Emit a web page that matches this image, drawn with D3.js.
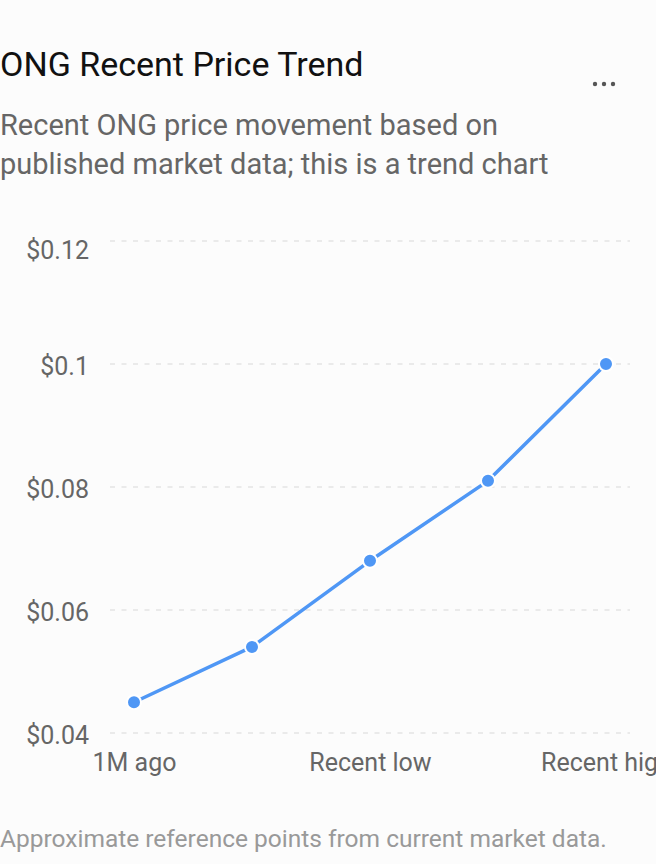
<!DOCTYPE html>
<html>
<head>
<meta charset="utf-8">
<script src="https://d3js.org/d3.v7.min.js"></script>
<style>
  html, body {margin: 0; padding: 0; background: #fcfcfc;}
  body {font-family: Roboto, "Noto Sans", sans-serif; width: 656px; height: 864px; overflow: hidden;}
  .axis .domain {display: none;}
  .axis text {font-family: Roboto, "Noto Sans", sans-serif; font-size: 25px; fill: #666;}
</style>
</head>
<body>
<svg id="chart" width="656" height="864"></svg>
<script>
// chart data
var categories = ["1M ago", "3W ago", "Recent low", "1W ago", "Recent high"];
var prices = [0.045, 0.054, 0.068, 0.081, 0.1];
var yTicks = [0.04, 0.06, 0.08, 0.1, 0.12];
var title = "ONG Recent Price Trend";
var subtitle = ["Recent ONG price movement based on", "published market data; this is a trend chart"];
var footnote = "Approximate reference points from current market data.";

var svg = d3.select("#chart");
var blue = "#4f97f5";

// plot area
var plotLeft = 110, plotRight = 630, plotTop = 241, plotBottom = 733;

var x = d3.scalePoint()
    .domain(categories)
    .range([134, 606]);

var y = d3.scaleLinear()
    .domain([0.04, 0.12])
    .range([plotBottom, plotTop]);

// title + subtitle
svg.append("text")
    .attr("x", 0)
    .attr("y", 76)
    .attr("font-size", 34)
    .attr("fill", "#111")
    .text(title);

svg.selectAll(".sub")
    .data(subtitle)
    .enter().append("text")
    .attr("class", "sub")
    .attr("x", 0)
    .attr("y", function(d, i) { return 135 + i * 39; })
    .attr("font-size", 29)
    .attr("fill", "#666")
    .text(function(d) { return d; });

// the "more" dots top right
svg.selectAll(".more")
    .data([0, 1, 2])
    .enter().append("circle")
    .attr("class", "more")
    .attr("cx", function(d) { return 595 + d * 9; })
    .attr("cy", 84)
    .attr("r", 2.2)
    .attr("fill", "#555");

// grid lines
svg.append("g")
    .selectAll("line")
    .data(yTicks)
    .enter().append("line")
    .attr("x1", plotLeft)
    .attr("x2", plotRight)
    .attr("y1", function(d) { return y(d); })
    .attr("y2", function(d) { return y(d); })
    .attr("stroke", "#e3e3e3")
    .attr("stroke-width", 1.5)
    .attr("stroke-dasharray", "5,6.5");

// y axis
var yAxis = svg.append("g")
    .attr("class", "axis")
    .attr("transform", "translate(89,0)")
    .call(d3.axisLeft(y)
        .tickValues(yTicks)
        .tickSize(0)
        .tickPadding(0)
        .tickFormat(function(d) { return "$" + (+d.toFixed(2)); }));

yAxis.selectAll("text")
    .attr("dy", function(d) { return d === 0.12 ? "0.68em" : "0.4em"; });

// x axis (every other label shown)
var xAxis = svg.append("g")
    .attr("class", "axis")
    .attr("transform", "translate(0," + plotBottom + ")")
    .call(d3.axisBottom(x)
        .tickSize(0)
        .tickPadding(20)
        .tickFormat(function(d, i) { return i % 2 === 0 ? d : ""; }));

// line
var line = d3.line()
    .x(function(d, i) { return x(categories[i]); })
    .y(function(d) { return y(d); });

svg.append("path")
    .datum(prices)
    .attr("d", line)
    .attr("fill", "none")
    .attr("stroke", blue)
    .attr("stroke-width", 3.5)
    .attr("stroke-linejoin", "round");

svg.selectAll(".pt")
    .data(prices)
    .enter().append("circle")
    .attr("class", "pt")
    .attr("cx", function(d, i) { return x(categories[i]); })
    .attr("cy", function(d) { return y(d); })
    .attr("r", 7)
    .attr("fill", blue)
    .attr("stroke", "#fff")
    .attr("stroke-width", 2);

// footnote
svg.append("text")
    .attr("x", 0)
    .attr("y", 847)
    .attr("font-size", 24.5)
    .attr("fill", "#999")
    .text(footnote);
</script>
</body>
</html>
